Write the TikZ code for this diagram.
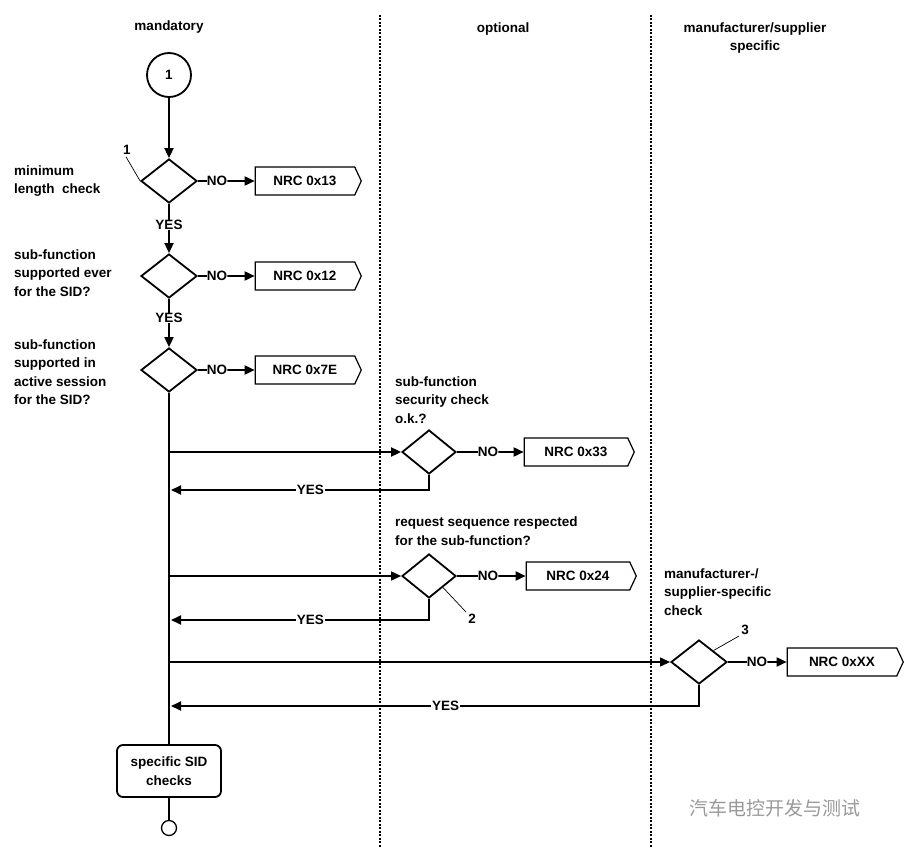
\documentclass[tikz,border=0pt]{standalone}
\usepackage{fontspec}
\setmainfont{Liberation Sans}
\newfontfamily\cjk{Noto Sans CJK SC}
\usetikzlibrary{arrows.meta,shapes.geometric,shapes.symbols}
\tikzset{
  txt/.style={font=\fontsize{13.5}{18.5}\selectfont\bfseries, inner sep=0pt},
  lbl/.style={txt, align=left, anchor=west},
  dec/.style={draw, diamond, line width=1.8pt, minimum width=56pt, minimum height=44pt, inner sep=0pt},
  nrc/.style={draw, txt, signal, signal to=east, signal pointer angle=130, line width=1.2pt,
    minimum width=106pt, minimum height=28pt},
  flow/.style={line width=1.8pt},
  thin/.style={line width=1.1pt},
  tip/.style={-{Triangle[length=10pt,width=9pt]}},
  arr/.style={tip, line width=1.8pt},
}
\begin{document}
\begin{tikzpicture}[x=1pt,y=-1pt,line cap=butt]
        \useasboundingbox (0,0) rectangle (912,848);
        \draw[dash pattern=on 2pt off 1.5pt, line width=1.8pt] (380,15) -- (380,848);    % lanes
        \draw[dash pattern=on 2pt off 1.5pt, line width=1.8pt] (651,15) -- (651,848);
        \node[txt] (hm) at (169,27) {mandatory};
        \node[txt] (ho) at (503,29) {optional};
        \node[txt, align=center] (hs) at (755,38) {manufacturer/supplier\\specific};
        % mandatory column
        \node[draw, circle, txt, line width=1.8pt, minimum size=44pt] (start) at (169,75) {1};
        \node[dec] (d1) at (169,181) {};
        \node[dec] (d2) at (169,276) {};
        \node[dec] (d3) at (169,370) {};
        \node[txt] (y1) at (169,225) {YES};
        \node[txt] (y2) at (169,318) {YES};
        \node[nrc] (n13) at (305,181) {NRC 0x13};
        \node[nrc] (n12) at (305,276) {NRC 0x12};
        \node[nrc] (n7e) at (305,370) {NRC 0x7E};
        \node[txt] (no1) at (217,181) {NO};
        \node[txt] (no2) at (217,276) {NO};
        \node[txt] (no3) at (217,370) {NO};
        \node[lbl] at (14,181) {minimum\\length~~check};
        \node[lbl] at (14,273) {sub-function\\supported ever\\for the SID?};
        \node[lbl] at (14,372) {sub-function\\supported in\\active session\\for the SID?};
        \node[txt] (k1) at (127,150) {1};
        \draw[line width=0.7pt] (k1.south) ++(-1,2) -- (d1.west);
        \draw[arr] (start) -- (d1);
        \draw[flow] (d1) -- (y1);
        \draw[arr] (y1) -- (d2);
        \draw[flow] (d2) -- (y2);
        \draw[arr] (y2) -- (d3);
        \foreach \d/\n/\b in {d1/no1/n13, d2/no2/n12, d3/no3/n7e}
          {\draw[flow] (\d) -- (\n); \draw[arr] (\n) -- (\b);}
        \node[draw, txt, rounded corners=6pt, line width=1.8pt, align=center,
          minimum width=104pt, minimum height=52pt] (ssid) at (169,771) {specific SID\\checks};
        \node[draw, circle, line width=1.3pt, minimum size=15pt, inner sep=0pt] (stop) at (169,828) {};
        \draw[flow] (d3) -- (ssid);
        \draw[flow] (ssid) -- (stop);
        % optional column
        \node[dec, minimum width=54pt] (d4) at (429,452) {};
        \node[dec, minimum width=54pt] (d5) at (429,576) {};
        \node[txt] (no4) at (488,452) {NO};
        \node[txt] (no5) at (488,576) {NO};
        \node[nrc, minimum width=110pt] (n33) at (576,452) {NRC 0x33};
        \node[nrc, minimum width=110pt] (n24) at (578,576) {NRC 0x24};
        \node[lbl] at (395,400) {sub-function\\security check\\o.k.?};
        \node[lbl] at (395,531) {request sequence respected\\for the sub-function?};
        \node[txt] (k2) at (472,619) {2};
        \draw[line width=0.7pt] (k2.north west) ++(-2,-2) -- (d5.south east);
        \coordinate (m4) at (169,452);
        \coordinate (m5) at (169,576);
        \coordinate (r4) at (171,490);
        \coordinate (r5) at (171,620);
        \draw[arr] (m4) -- (d4);
        \draw[tip, thin] (m5) -- (d5);
        \draw[arr] (d4.south) |- node[txt, fill=white, pos=0.73, inner xsep=1pt] {YES} (r4);
        \draw[arr] (d5.south) |- node[txt, fill=white, pos=0.73, inner xsep=1pt] {YES} (r5);
        \draw[flow] (d4) -- (no4);
        \draw[arr] (no4) -- (n33);
        \draw[flow] (d5) -- (no5);
        \draw[arr] (no5) -- (n24);
        % manufacturer column
        \node[dec] (d6) at (699,662) {};
        \node[txt] (no6) at (757,662) {NO};
        \node[nrc, minimum width=116pt] (nxx) at (842,662) {NRC 0xXX};
        \node[lbl] at (664,592) {manufacturer-/\\supplier-specific\\check};
        \node[txt] (k3) at (745,630) {3};
        \draw[line width=0.7pt] (k3.south west) ++(-2,1) -- (d6.north east);
        \coordinate (m6) at (169,662);
        \coordinate (r6) at (171,706);
        \draw[tip, thin] (m6) -- (d6);
        \draw[arr] (d6.south) |- node[txt, fill=white, pos=0.74, inner xsep=1pt] {YES} (r6);
        \draw[flow] (d6) -- (no6);
        \draw[arr] (no6) -- (nxx);
        \node[font=\cjk\fontsize{19}{22}\selectfont, text=black!40, anchor=west] (wm) at (686,808) {汽车电控开发与测试};
\end{tikzpicture}
\end{document}
